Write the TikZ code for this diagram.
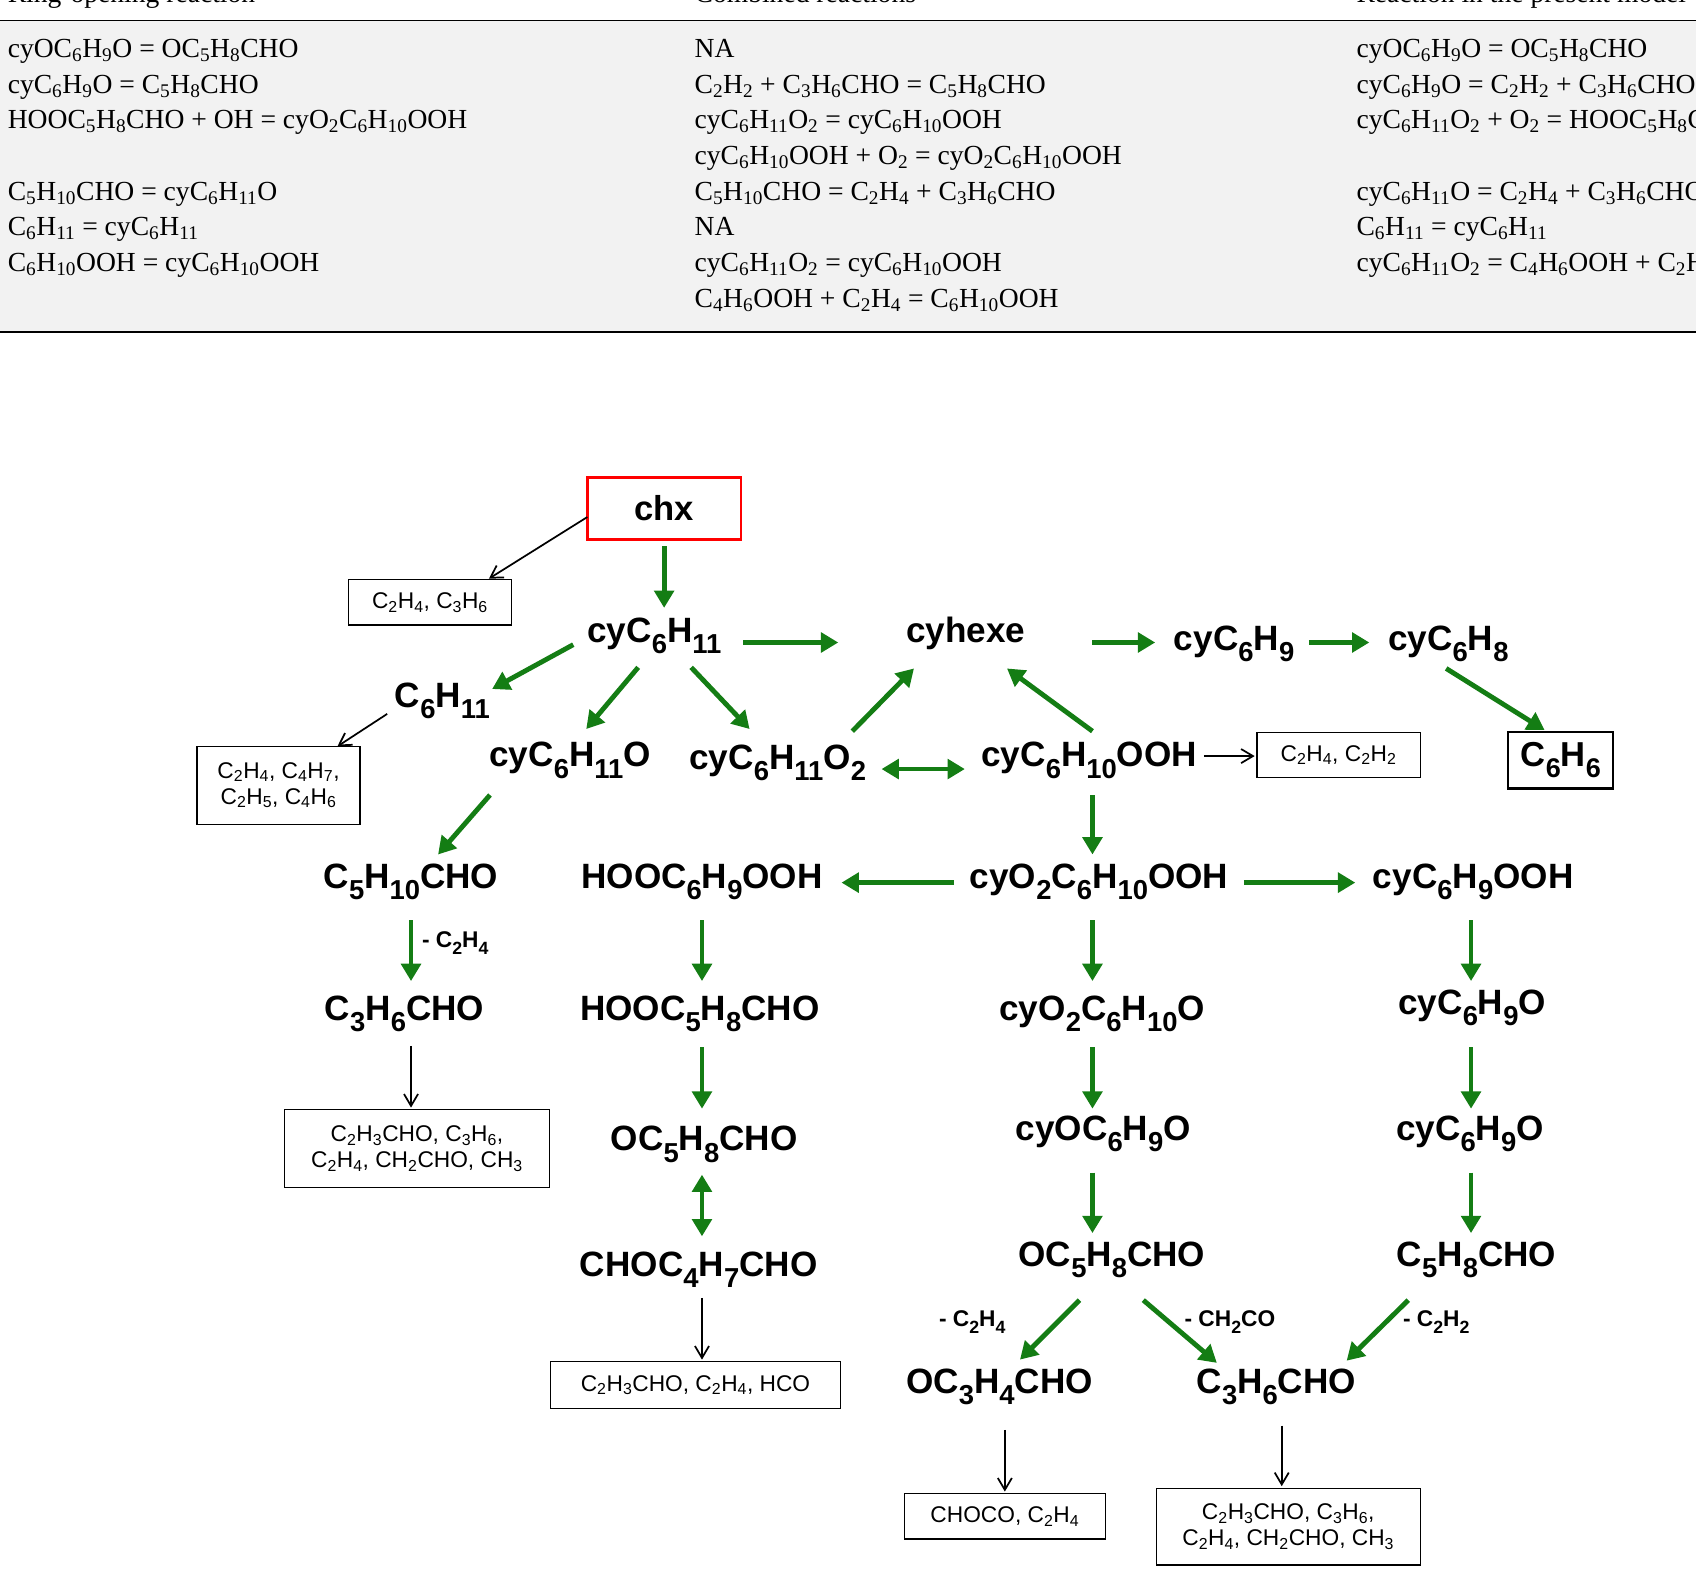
\documentclass[tikz,border=0pt]{standalone}
\usepackage{fontspec}
\setmainfont{Liberation Sans}
\newfontfamily\tabfont{Liberation Serif}
\usetikzlibrary{arrows.meta}
\newcommand{\s}[1]{\raisebox{-0.6ex}{\scalebox{0.78}{#1}}}
\newcommand{\ts}[1]{\textsubscript{#1}}
\definecolor{grn}{RGB}{20,125,20}
\tikzset{
 big/.style={font=\bfseries\fontsize{32.5}{34}\selectfont,inner sep=0pt},
 bx/.style={draw,line width=1.3pt,font=\fontsize{21}{24}\selectfont,align=center,inner sep=0pt},
 ga/.style={grn,line width=4.5pt,-{Triangle[length=16pt,width=18pt]}},
 gda/.style={grn,line width=4.5pt,{Triangle[length=16pt,width=18pt]}-{Triangle[length=16pt,width=18pt]}},
 ba/.style={black,line width=1.6pt,-{Straight Barb[length=11pt,width=13pt]}},
 lbl/.style={font=\bfseries\fontsize{21}{24}\selectfont,inner sep=0pt,anchor=west},
 tb/.style={font=\tabfont\fontsize{25.5}{27}\selectfont,anchor=base west,inner sep=0pt}
}
\begin{document}
\begin{tikzpicture}[x=1pt,y=-1pt]
\useasboundingbox (0,0) rectangle (1568,1458);
\fill[black!5] (0,19) rectangle (1568,307);
\draw[line width=1.5pt] (0,19) -- (1568,19) (0,307) -- (1568,307);
\node[tb] (h1) at (7,2) {Ring-opening reaction};
\node[tb] (h2) at (642,2) {Combined reactions};
\node[tb] (h3) at (1254,2) {Reaction in the present model};
\foreach \t [count=\i] in {cyOC\ts6H\ts9O = OC\ts5H\ts8CHO, cyC\ts6H\ts9O = C\ts5H\ts8CHO, HOOC\ts5H\ts8CHO + OH = cyO\ts2C\ts6H\ts{10}OOH, {}, C\ts5H\ts{10}CHO = cyC\ts6H\ts{11}O, C\ts6H\ts{11} = cyC\ts6H\ts{11}, C\ts6H\ts{10}OOH = cyC\ts6H\ts{10}OOH}
  \node[tb] (a\i) at (7,45+33*\i-33+8) {\t};
\foreach \t [count=\i] in {NA, C\ts2H\ts2 + C\ts3H\ts6CHO = C\ts5H\ts8CHO, cyC\ts6H\ts{11}O\ts2 = cyC\ts6H\ts{10}OOH, cyC\ts6H\ts{10}OOH + O\ts2 = cyO\ts2C\ts6H\ts{10}OOH, C\ts5H\ts{10}CHO = C\ts2H\ts4 + C\ts3H\ts6CHO, NA, cyC\ts6H\ts{11}O\ts2 = cyC\ts6H\ts{10}OOH, C\ts4H\ts6OOH + C\ts2H\ts4 = C\ts6H\ts{10}OOH}
  \node[tb] (b\i) at (642,45+33*\i-33+8) {\t};
\foreach \t [count=\i] in {cyOC\ts6H\ts9O = OC\ts5H\ts8CHO, cyC\ts6H\ts9O = C\ts2H\ts2 + C\ts3H\ts6CHO, cyC\ts6H\ts{11}O\ts2 + O\ts2 = HOOC\ts5H\ts8CHO, {}, cyC\ts6H\ts{11}O = C\ts2H\ts4 + C\ts3H\ts6CHO, C\ts6H\ts{11} = cyC\ts6H\ts{11}, cyC\ts6H\ts{11}O\ts2 = C\ts4H\ts6OOH + C\ts2H\ts4}
  \node[tb] (c\i) at (1254,45+33*\i-33+8) {\t};

% species
\node[draw=red,line width=2.5pt,minimum width=142pt,minimum height=57pt,font=\bfseries\fontsize{32}{34}\selectfont] (chx) at (614,470) {chx};
\node[big] (cy11) at (605,588) {cyC\s6H\s{11}};
\node[big] (hexe) at (893,586) {cyhexe};
\node[big] (cy9) at (1141,595) {cyC\s6H\s9};
\node[big] (cy8) at (1339,595) {cyC\s6H\s8};
\node[big] (c611) at (409,648) {C\s6H\s{11}};
\node[big] (cy11o) at (527,703) {cyC\s6H\s{11}O};
\node[big] (cy11o2) at (719,705) {cyC\s6H\s{11}O\s2};
\node[big] (cy10ooh) at (1007,703) {cyC\s6H\s{10}OOH};
\node[draw,line width=2pt,minimum width=97pt,minimum height=52pt,font=\bfseries\fontsize{32}{34}\selectfont,inner sep=0pt] (c6h6) at (1443,703) {C\s6H\s6};
\node[big] (c510) at (380,815) {C\s5H\s{10}CHO};
\node[big] (hooc69) at (649,815) {HOOC\s6H\s9OOH};
\node[big] (cyo2) at (1016,815) {cyO\s2C\s6H\s{10}OOH};
\node[big] (cy9ooh) at (1362,815) {cyC\s6H\s9OOH};
\node[big] (c36a) at (374,937) {C\s3H\s6CHO};
\node[big] (hooc58) at (647,937) {HOOC\s5H\s8CHO};
\node[big] (cyo2o) at (1019,937) {cyO\s2C\s6H\s{10}O};
\node[big] (cy9oa) at (1361,932) {cyC\s6H\s9O};
\node[big] (oc58a) at (651,1058) {OC\s5H\s8CHO};
\node[big] (cyoc) at (1020,1048) {cyOC\s6H\s9O};
\node[big] (cy9ob) at (1359,1048) {cyC\s6H\s9O};
\node[big] (choc) at (646,1174) {CHOC\s4H\s7CHO};
\node[big] (oc58b) at (1028,1165) {OC\s5H\s8CHO};
\node[big] (c58) at (1365,1165) {C\s5H\s8CHO};
\node[big] (oc34) at (924,1282) {OC\s3H\s4CHO};
\node[big] (c36b) at (1180,1282) {C\s3H\s6CHO};
% boxes
\node[bx,minimum width=151pt,minimum height=42pt] (b1) at (397.5,557) {C\ts2H\ts4, C\ts3H\ts6};
\node[bx,minimum width=151pt,minimum height=72pt] (b2) at (257.5,726) {C\ts2H\ts4, C\ts4H\ts7,\\C\ts2H\ts5, C\ts4H\ts6};
\node[bx,minimum width=151pt,minimum height=42pt] (b3) at (1237.5,698) {C\ts2H\ts4, C\ts2H\ts2};
\node[bx,minimum width=245pt,minimum height=72pt] (b4) at (385.5,1062) {C\ts2H\ts3CHO, C\ts3H\ts6,\\C\ts2H\ts4, CH\ts2CHO, CH\ts3};
\node[bx,minimum width=268pt,minimum height=43pt] (b5) at (643,1280.5) {C\ts2H\ts3CHO, C\ts2H\ts4, HCO};
\node[bx,minimum width=186pt,minimum height=42pt] (b6) at (929,1402) {CHOCO, C\ts2H\ts4};
\node[bx,minimum width=244pt,minimum height=71pt] (b7) at (1191,1411.5) {C\ts2H\ts3CHO, C\ts3H\ts6,\\C\ts2H\ts4, CH\ts2CHO, CH\ts3};
% green arrows
\draw[ga] (614,505) -- (614,562);
\draw[ga] (687,594) -- (775,594);
\draw[ga] (530,596) -- (455,637);
\draw[ga] (590,617) -- (542,674);
\draw[ga] (639,617) -- (693,674);
\draw[ga] (788,676) -- (845,618);
\draw[ga] (1010,676) -- (931,618);
\draw[ga] (1010,594) -- (1068,594);
\draw[ga] (1210,594) -- (1266,594);
\draw[ga] (1337,618) -- (1428,675);
\draw[gda] (815,711) -- (892,711);
\draw[ga] (1010,735) -- (1010,790);
\draw[ga] (882,816) -- (778,816);
\draw[ga] (1150,816) -- (1253,816);
\draw[ga] (453,735) -- (405,790);
\draw[ga] (380,851) -- (380,907);
\draw[ga] (649,851) -- (649,907);
\draw[ga] (649,968) -- (649,1025);
\draw[gda] (649,1086) -- (649,1143);
\foreach \x in {1010,1360}{
 \draw[ga] (\x,851) -- (\x,907);
 \draw[ga] (\x,968) -- (\x,1025);
 \draw[ga] (\x,1084) -- (\x,1140);}
\draw[ga] (998,1202) -- (943,1257);
\draw[ga] (1057,1202) -- (1125,1260);
\draw[ga] (1302,1202) -- (1245,1258);
% black arrows
\draw[ba] (543,478) -- (452,535);
\draw[ba] (358,660) -- (312,690);
\draw[ba] (1113,699) -- (1160,699);
\draw[ba] (380,967) -- (380,1024);
\draw[ba] (649,1200) -- (649,1257);
\draw[ba] (929,1322) -- (929,1379);
\draw[ba] (1185,1318) -- (1185,1374);
% labels
\node[lbl] (l1) at (390,872) {- C\s2H\s4};
\node[lbl] (l2) at (868,1222) {- C\s2H\s4};
\node[lbl] (l3) at (1095,1222) {- CH\s2CO};
\node[lbl] (l4) at (1297,1222) {- C\s2H\s2};
\end{tikzpicture}
\end{document}
